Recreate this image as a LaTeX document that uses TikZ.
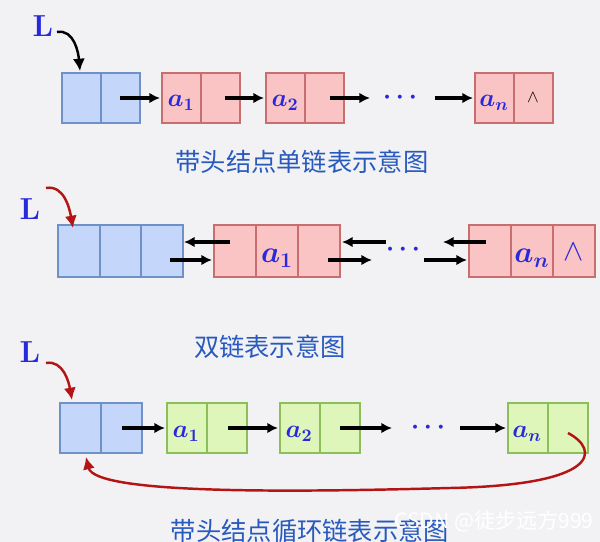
\documentclass[tikz,border=0pt]{standalone}
\usepackage{fontspec}
\usepackage{bm}
\newfontfamily\cjk{Noto Sans CJK SC}
\usetikzlibrary{arrows.meta}
\definecolor{bg}{RGB}{242,242,244}
\definecolor{bfill}{RGB}{196,214,250}
\definecolor{bdraw}{RGB}{110,145,200}
\definecolor{rfill}{RGB}{250,196,196}
\definecolor{rdraw}{RGB}{200,110,110}
\definecolor{gfill}{RGB}{222,246,186}
\definecolor{gdraw}{RGB}{140,190,90}
\definecolor{lbl}{RGB}{40,40,220}
\definecolor{cap}{RGB}{40,90,190}
\definecolor{darkred}{RGB}{180,20,20}
\begin{document}
\begin{tikzpicture}[x=0.02cm,y=-0.02cm,
  cell/.style={draw=#1draw,fill=#1fill,line width=0.8pt},
  ptr/.style={-{Latex[length=6pt,width=6pt]},line width=2pt,black},
  lptr/.style={-{Latex[length=7pt,width=7pt]},line width=1.4pt,darkred},
  val/.style={text=lbl,font=\Large\boldmath},
  dots/.style={text=lbl,font=\Large\boldmath},
  capt/.style={text=cap,font=\cjk\Large},
  Lt/.style={text=lbl,font=\LARGE\bfseries}]
\fill[bg] (0,0) rectangle (600,542);
\useasboundingbox (0,0) rectangle (600,542);
% Row 1
\draw[cell=b] (62,73) rectangle (101,123); \draw[cell=b] (101,73) rectangle (140,123);
\draw[cell=r] (162,73) rectangle (201,123); \draw[cell=r] (201,73) rectangle (240,123);
\draw[cell=r] (266,73) rectangle (305,123); \draw[cell=r] (305,73) rectangle (344,123);
\draw[cell=r] (475,73) rectangle (514,123); \draw[cell=r] (514,73) rectangle (553,123);
\node[val] (a1) at (181,103) {$a_1$};
\node[val] (a2) at (285,103) {$a_2$};
\node[val] (an) at (494,103) {$a_n$};
\node[text=black] (nil1) at (533,98) {$\wedge$};
\node[dots] (d1) at (400,98) {$\cdots$};
\coordinate (s1) at (120,98); \coordinate (e1) at (160,98);
\coordinate (s2) at (225,98); \coordinate (e2) at (264,98);
\coordinate (s3) at (330,98); \coordinate (e3) at (370,98);
\coordinate (s4) at (435,98); \coordinate (e4) at (473,98);
\foreach \i in {1,...,4}{\draw[ptr] (s\i) -- (e\i);}
\node[Lt] (L1) at (43,26) {L};
\coordinate (h1) at (80,71);
\draw[-{Latex[length=7pt,width=7pt]},line width=1.4pt,black] (57,32) to[out=10,in=95] (h1);
\node[capt] (c1) at (302,162) {带头结点单链表示意图};
% Row 2
\draw[cell=b] (58,225) rectangle (100,277); \draw[cell=b] (100,225) rectangle (141,277); \draw[cell=b] (141,225) rectangle (183,277);
\draw[cell=r] (214,225) rectangle (256,277); \draw[cell=r] (256,225) rectangle (298,277); \draw[cell=r] (298,225) rectangle (340,277);
\draw[cell=r] (469,225) rectangle (511,277); \draw[cell=r] (511,225) rectangle (553,277); \draw[cell=r] (553,225) rectangle (595,277);
\node[val,font=\LARGE\boldmath] (b1) at (277,258) {$a_1$};
\node[val,font=\LARGE\boldmath] (bn) at (532,258) {$a_n$};
\node[text=lbl,font=\LARGE] (nil2) at (574,252) {$\wedge$};
\node[dots] (d2) at (403,250) {$\cdots$};
\coordinate (p1) at (230,242); \coordinate (q1) at (184,242);
\coordinate (p2) at (386,242); \coordinate (q2) at (342,242);
\coordinate (p3) at (486,242); \coordinate (q3) at (443,242);
\coordinate (u1) at (170,260); \coordinate (v1) at (212,260);
\coordinate (u2) at (328,260); \coordinate (v2) at (372,260);
\coordinate (u3) at (424,260); \coordinate (v3) at (467,260);
\foreach \i in {1,2,3}{\draw[ptr] (p\i) -- (q\i); \draw[ptr] (u\i) -- (v\i);}
\node[Lt] (L2) at (30,209) {L};
\coordinate (h2) at (73,228);
\draw[lptr] (46,188) to[out=10,in=100] (h2);
\node[capt] (c2) at (270,347) {双链表示意图};
% Row 3
\draw[cell=b] (60,403) rectangle (101,453); \draw[cell=b] (101,403) rectangle (142,453);
\draw[cell=g] (167,403) rectangle (207,453); \draw[cell=g] (207,403) rectangle (247,453);
\draw[cell=g] (280,403) rectangle (320,453); \draw[cell=g] (320,403) rectangle (360,453);
\draw[cell=g] (508,403) rectangle (548,453); \draw[cell=g] (548,403) rectangle (588,453);
\node[val] (g1) at (186,434) {$a_1$};
\node[val] (g2) at (299,434) {$a_2$};
\node[val] (gn) at (527,434) {$a_n$};
\node[dots] (d3) at (428,428) {$\cdots$};
\coordinate (m1) at (122,428); \coordinate (n1) at (165,428);
\coordinate (m2) at (228,428); \coordinate (n2) at (278,428);
\coordinate (m3) at (340,428); \coordinate (n3) at (392,428);
\coordinate (m4) at (460,428); \coordinate (n4) at (506,428);
\foreach \i in {1,...,4}{\draw[ptr] (m\i) -- (n\i);}
\node[Lt] (L3) at (30,352) {L};
\coordinate (h3) at (72,400);
\draw[lptr] (46,363) to[out=10,in=100] (h3);
\coordinate (rs) at (568,433); \coordinate (re) at (86,457);
\draw[lptr] (rs) .. controls (600,450) and (600,485) .. (450,488)
  .. controls (300,492) and (95,495) .. (re);
\node[capt] (c3) at (310,531) {带头结点循环链表示意图};
\node[text=white,font=\cjk\large] (wm) at (494,521) {CSDN @徒步远方999};
\end{tikzpicture}
\end{document}
